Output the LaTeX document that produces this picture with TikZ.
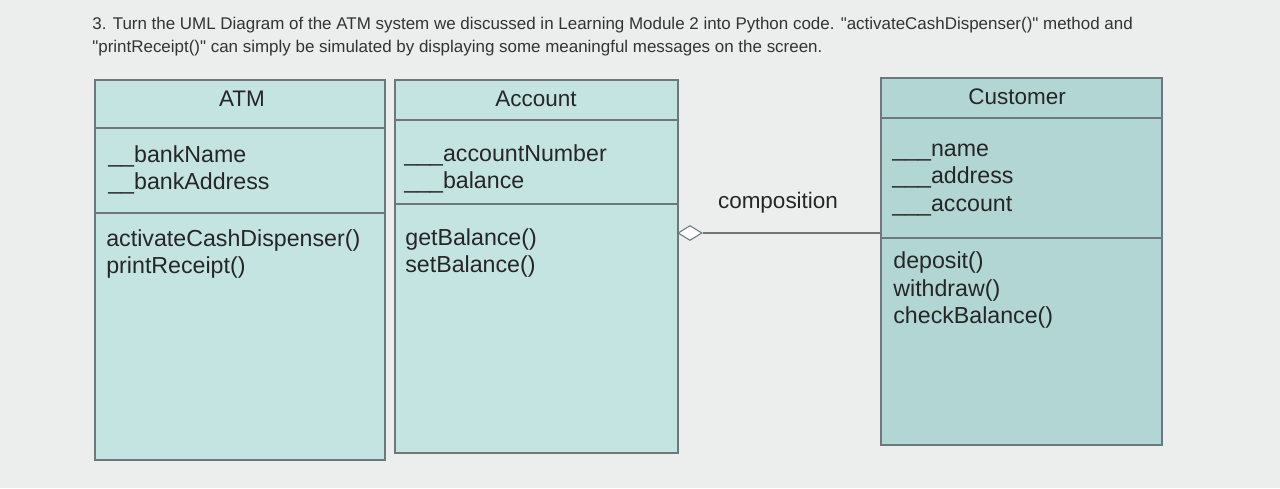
\documentclass[tikz,border=0pt]{standalone}
\usepackage{fontspec}
\setmainfont{Liberation Sans}
\usetikzlibrary{shapes.geometric}
\definecolor{bg}{RGB}{236,238,238}
\definecolor{cls}{RGB}{196,228,225}
\definecolor{clsd}{RGB}{178,214,212}
\definecolor{edge}{RGB}{110,120,122}
\newcommand{\qq}{\textquotedbl}
\tikzset{box/.style={fill=cls,draw=edge,line width=0.6pt},
 txt/.style={anchor=west,inner sep=0,font=\fontsize{13.2pt}{15.5pt}\selectfont,text=black!85,align=left},
 ttl/.style={inner sep=0,font=\fontsize{12.8pt}{15pt}\selectfont,text=black!85}}
\begin{document}
\begin{tikzpicture}[x=0.02cm,y=-0.02cm]
\fill[bg] (0,0) rectangle (1280,488);
\node[anchor=north west,inner sep=0,align=left,font=\fontsize{9.65pt}{13pt}\selectfont,text=black!80] (q) at (92,17) {3. Turn the UML Diagram of the ATM system we discussed in Learning Module 2 into Python code. \qq activateCashDispenser()\qq\ method and\\\qq printReceipt()\qq\ can simply be simulated by displaying some meaningful messages on the screen.};
% ATM
\draw[box] (95,80) rectangle (385,460);
\draw[edge,line width=0.6pt] (95,128) -- (385,128) (95,213) -- (385,213);
\node[ttl] (atm) at (242,99) {ATM};
\node[txt] (atma) at (108,170) {\_\_bankName\\\_\_bankAddress};
\node[txt] (atmm) at (106,254) {activateCashDispenser()\\printReceipt()};
% Account
\draw[box] (395,80) rectangle (678,453);
\draw[edge,line width=0.6pt] (395,120) -- (678,120) (395,204) -- (678,204);
\node[ttl] (acc) at (536,99) {Account};
\node[txt] (acca) at (404,169) {\_\_\_accountNumber\\\_\_\_balance};
\node[txt] (accm) at (405,253) {getBalance()\\setBalance()};
% Customer
\draw[box,fill=clsd] (881,78) rectangle (1162,445);
\draw[edge,line width=0.6pt] (881,118) -- (1162,118) (881,238) -- (1162,238);
\node[ttl] (cus) at (1017,97) {Customer};
\node[txt] (cusa) at (892,180) {\_\_\_name\\\_\_\_address\\\_\_\_account};
\node[txt] (cusm) at (893,290) {deposit()\\withdraw()\\checkBalance()};
% composition
\node[diamond,draw=edge,fill=white,inner sep=0,minimum width=0.48cm,minimum height=0.3cm,line width=0.6pt] (dia) at (690,233) {};
\coordinate (ce) at (881,233);
\draw[edge,line width=0.6pt] (dia.east) -- (ce);
\node[ttl] (lab) at (778,203) {composition};
\end{tikzpicture}
\end{document}
